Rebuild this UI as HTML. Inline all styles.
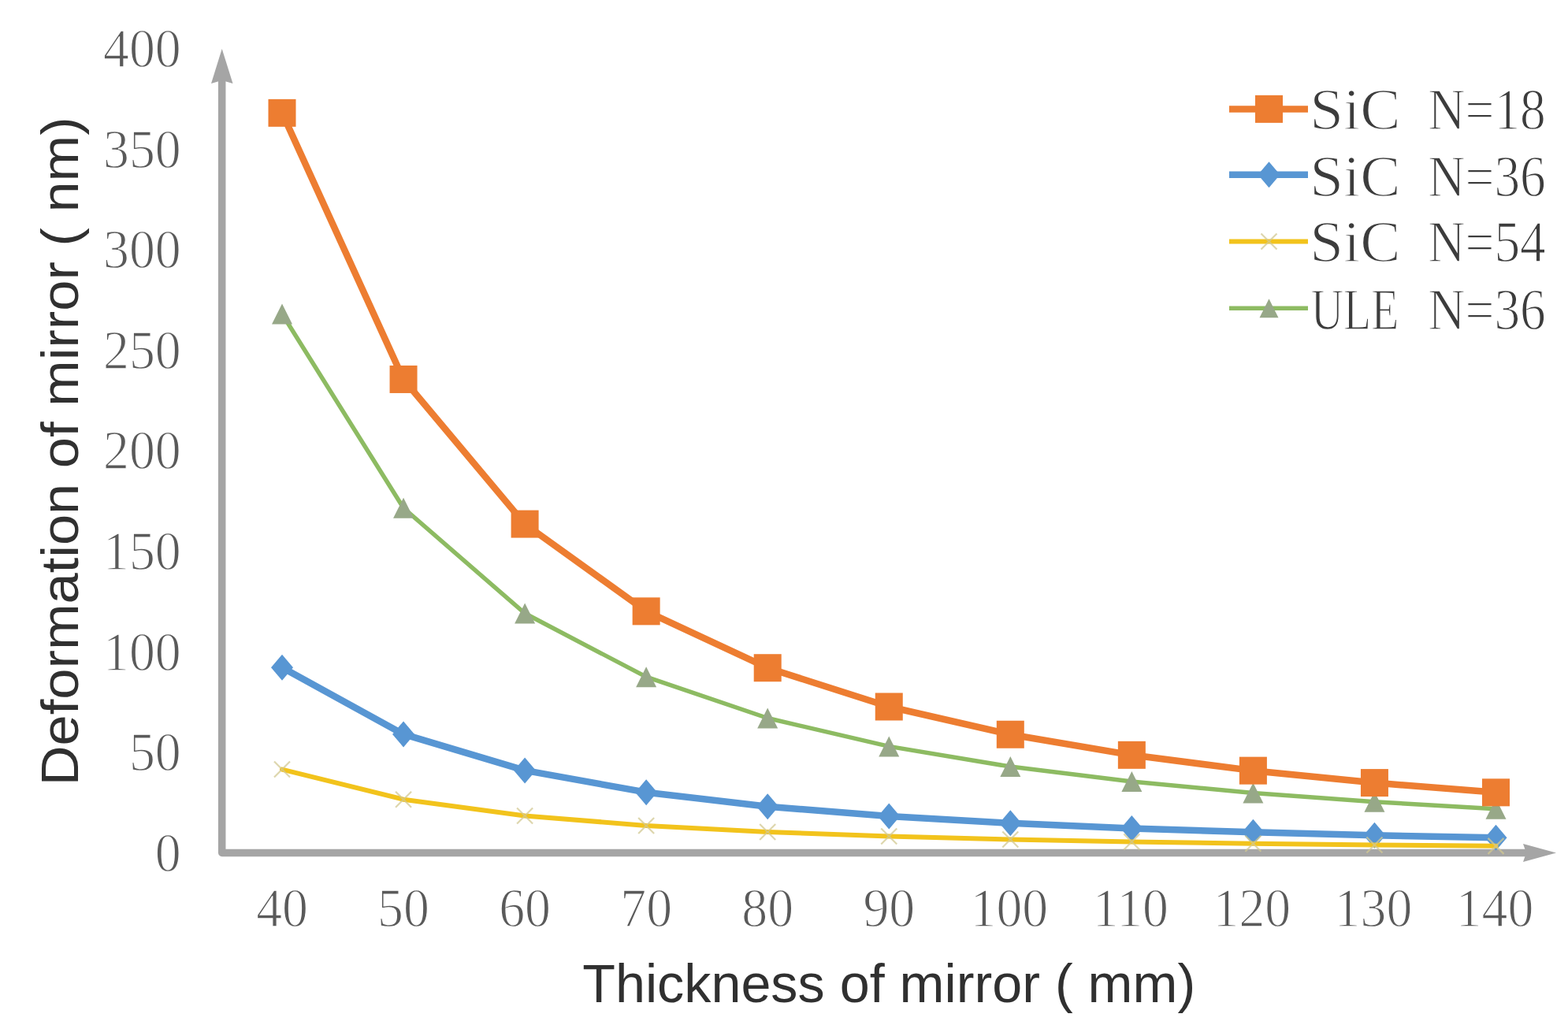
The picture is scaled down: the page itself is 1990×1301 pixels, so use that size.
<!DOCTYPE html><html><head><meta charset="utf-8"><title>Deformation of mirror vs thickness of mirror</title>
<style>html,body{margin:0;padding:0;background:#fff;overflow:hidden;}svg{display:block;}</style></head><body>
<svg width="1990" height="1301" viewBox="0 0 1990 1301">
<rect width="1990" height="1301" fill="#fff"/>
<g font-family="Liberation Serif, serif" font-size="70" fill="#5A5A5A" stroke="#fff" stroke-width="1.3" text-anchor="end" transform="scale(0.940,1)">
<text x="244.4" y="1105.8">0</text>
<text x="244.4" y="978.2">50</text>
<text x="244.4" y="850.6">100</text>
<text x="244.4" y="723.0">150</text>
<text x="244.4" y="595.4">200</text>
<text x="244.4" y="467.8">250</text>
<text x="244.4" y="340.2">300</text>
<text x="244.4" y="212.6">350</text>
<text x="244.4" y="85.0">400</text>
</g>
<g font-family="Liberation Serif, serif" font-size="70" fill="#5A5A5A" stroke="#fff" stroke-width="1.3" text-anchor="middle" transform="scale(0.940,1)">
<text x="380.9" y="1175.8">40</text>
<text x="544.7" y="1175.8">50</text>
<text x="708.6" y="1175.8">60</text>
<text x="872.5" y="1175.8">70</text>
<text x="1036.4" y="1175.8">80</text>
<text x="1200.3" y="1175.8">90</text>
<text x="1362.6" y="1175.8">100</text>
<text x="1526.4" y="1175.8">110</text>
<text x="1690.3" y="1175.8">120</text>
<text x="1854.2" y="1175.8">130</text>
<text x="2018.1" y="1175.8">140</text>
</g>
<path d="M281.7,96 L281.7,1082.5 L1945,1082.5" stroke="#A5A5A5" stroke-width="9.5" fill="none" stroke-linejoin="round"/>
<polygon points="281.7,62 295.5,106 281.7,102 268,106" fill="#A5A5A5"/>
<polygon points="1975,1082.5 1933,1071 1937,1082.5 1933,1094" fill="#A5A5A5"/>
<path d="M358.00,398.56 L512.05,644.78 L666.10,778.53 L820.15,859.17 L974.20,911.52 L1128.25,947.40 L1282.30,973.07 L1436.35,992.06 L1590.40,1006.51 L1744.45,1017.75 L1898.50,1026.67" stroke="#8DBB62" stroke-width="5.5" fill="none" stroke-linejoin="round" stroke-linecap="round"/>
<polygon points="358.00,385.56 371.00,411.56 345.00,411.56" fill="#97A888"/>
<polygon points="512.05,631.78 525.05,657.78 499.05,657.78" fill="#97A888"/>
<polygon points="666.10,765.53 679.10,791.53 653.10,791.53" fill="#97A888"/>
<polygon points="820.15,846.17 833.15,872.17 807.15,872.17" fill="#97A888"/>
<polygon points="974.20,898.52 987.20,924.52 961.20,924.52" fill="#97A888"/>
<polygon points="1128.25,934.40 1141.25,960.40 1115.25,960.40" fill="#97A888"/>
<polygon points="1282.30,960.07 1295.30,986.07 1269.30,986.07" fill="#97A888"/>
<polygon points="1436.35,979.06 1449.35,1005.06 1423.35,1005.06" fill="#97A888"/>
<polygon points="1590.40,993.51 1603.40,1019.51 1577.40,1019.51" fill="#97A888"/>
<polygon points="1744.45,1004.75 1757.45,1030.75 1731.45,1030.75" fill="#97A888"/>
<polygon points="1898.50,1013.67 1911.50,1039.67 1885.50,1039.67" fill="#97A888"/>
<path d="M358.00,847.21 L512.05,931.91 L666.10,977.92 L820.15,1005.67 L974.20,1023.68 L1128.25,1036.02 L1282.30,1044.85 L1436.35,1051.39 L1590.40,1056.36 L1744.45,1060.22 L1898.50,1063.29" stroke="#5896D3" stroke-width="8.5" fill="none" stroke-linejoin="round" stroke-linecap="round"/>
<polygon points="358.00,830.71 372.00,847.21 358.00,863.71 344.00,847.21" fill="#5896D3"/>
<polygon points="512.05,915.41 526.05,931.91 512.05,948.41 498.05,931.91" fill="#5896D3"/>
<polygon points="666.10,961.42 680.10,977.92 666.10,994.42 652.10,977.92" fill="#5896D3"/>
<polygon points="820.15,989.17 834.15,1005.67 820.15,1022.17 806.15,1005.67" fill="#5896D3"/>
<polygon points="974.20,1007.18 988.20,1023.68 974.20,1040.18 960.20,1023.68" fill="#5896D3"/>
<polygon points="1128.25,1019.52 1142.25,1036.02 1128.25,1052.52 1114.25,1036.02" fill="#5896D3"/>
<polygon points="1282.30,1028.35 1296.30,1044.85 1282.30,1061.35 1268.30,1044.85" fill="#5896D3"/>
<polygon points="1436.35,1034.89 1450.35,1051.39 1436.35,1067.89 1422.35,1051.39" fill="#5896D3"/>
<polygon points="1590.40,1039.86 1604.40,1056.36 1590.40,1072.86 1576.40,1056.36" fill="#5896D3"/>
<polygon points="1744.45,1043.72 1758.45,1060.22 1744.45,1076.72 1730.45,1060.22" fill="#5896D3"/>
<polygon points="1898.50,1046.79 1912.50,1063.29 1898.50,1079.79 1884.50,1063.29" fill="#5896D3"/>
<path d="M358.00,976.59 L512.05,1014.72 L666.10,1035.43 L820.15,1047.92 L974.20,1056.02 L1128.25,1061.58 L1282.30,1065.55 L1436.35,1068.50 L1590.40,1070.73 L1744.45,1072.47 L1898.50,1073.85" stroke="#F2C31C" stroke-width="6.0" fill="none" stroke-linejoin="round" stroke-linecap="round"/>
<path d="M348.00,966.59 L368.00,986.59 M348.00,986.59 L368.00,966.59" stroke="#D2C892" stroke-width="2.2" stroke-opacity="0.75" fill="none"/>
<path d="M502.05,1004.72 L522.05,1024.72 M502.05,1024.72 L522.05,1004.72" stroke="#D2C892" stroke-width="2.2" stroke-opacity="0.75" fill="none"/>
<path d="M656.10,1025.43 L676.10,1045.43 M656.10,1045.43 L676.10,1025.43" stroke="#D2C892" stroke-width="2.2" stroke-opacity="0.75" fill="none"/>
<path d="M810.15,1037.92 L830.15,1057.92 M810.15,1057.92 L830.15,1037.92" stroke="#D2C892" stroke-width="2.2" stroke-opacity="0.75" fill="none"/>
<path d="M964.20,1046.02 L984.20,1066.02 M964.20,1066.02 L984.20,1046.02" stroke="#D2C892" stroke-width="2.2" stroke-opacity="0.75" fill="none"/>
<path d="M1118.25,1051.58 L1138.25,1071.58 M1118.25,1071.58 L1138.25,1051.58" stroke="#D2C892" stroke-width="2.2" stroke-opacity="0.75" fill="none"/>
<path d="M1272.30,1055.55 L1292.30,1075.55 M1272.30,1075.55 L1292.30,1055.55" stroke="#D2C892" stroke-width="2.2" stroke-opacity="0.75" fill="none"/>
<path d="M1426.35,1058.50 L1446.35,1078.50 M1426.35,1078.50 L1446.35,1058.50" stroke="#D2C892" stroke-width="2.2" stroke-opacity="0.75" fill="none"/>
<path d="M1580.40,1060.73 L1600.40,1080.73 M1580.40,1080.73 L1600.40,1060.73" stroke="#D2C892" stroke-width="2.2" stroke-opacity="0.75" fill="none"/>
<path d="M1734.45,1062.47 L1754.45,1082.47 M1734.45,1082.47 L1754.45,1062.47" stroke="#D2C892" stroke-width="2.2" stroke-opacity="0.75" fill="none"/>
<path d="M1888.50,1063.85 L1908.50,1083.85 M1888.50,1083.85 L1908.50,1063.85" stroke="#D2C892" stroke-width="2.2" stroke-opacity="0.75" fill="none"/>
<path d="M358.00,143.36 L512.05,481.45 L666.10,665.11 L820.15,775.84 L974.20,847.72 L1128.25,896.99 L1282.30,932.24 L1436.35,958.32 L1590.40,978.15 L1744.45,993.59 L1898.50,1005.84" stroke="#ED7D31" stroke-width="8.5" fill="none" stroke-linejoin="round" stroke-linecap="round"/>
<rect x="340.50" y="125.86" width="35" height="35" fill="#ED7D31"/>
<rect x="494.55" y="463.95" width="35" height="35" fill="#ED7D31"/>
<rect x="648.60" y="647.61" width="35" height="35" fill="#ED7D31"/>
<rect x="802.65" y="758.34" width="35" height="35" fill="#ED7D31"/>
<rect x="956.70" y="830.22" width="35" height="35" fill="#ED7D31"/>
<rect x="1110.75" y="879.49" width="35" height="35" fill="#ED7D31"/>
<rect x="1264.80" y="914.74" width="35" height="35" fill="#ED7D31"/>
<rect x="1418.85" y="940.82" width="35" height="35" fill="#ED7D31"/>
<rect x="1572.90" y="960.65" width="35" height="35" fill="#ED7D31"/>
<rect x="1726.95" y="976.09" width="35" height="35" fill="#ED7D31"/>
<rect x="1881.00" y="988.34" width="35" height="35" fill="#ED7D31"/>
<line x1="1560" y1="138.4" x2="1660" y2="138.4" stroke="#ED7D31" stroke-width="8.5"/>
<rect x="1593.00" y="120.90" width="35" height="35" fill="#ED7D31"/>
<text font-family="Liberation Serif, serif" font-size="74" fill="#3C3C3C" stroke="#fff" stroke-width="1.4" y="163.5"><tspan x="1662.3" textLength="115.3" lengthAdjust="spacingAndGlyphs">SiC</tspan> <tspan x="1812.3" textLength="149.5" lengthAdjust="spacingAndGlyphs">N=18</tspan></text>
<line x1="1560" y1="221.8" x2="1660" y2="221.8" stroke="#5896D3" stroke-width="8.5"/>
<polygon points="1610.50,205.30 1624.50,221.80 1610.50,238.30 1596.50,221.80" fill="#5896D3"/>
<text font-family="Liberation Serif, serif" font-size="74" fill="#3C3C3C" stroke="#fff" stroke-width="1.4" y="249.0"><tspan x="1662.3" textLength="115.3" lengthAdjust="spacingAndGlyphs">SiC</tspan> <tspan x="1812.3" textLength="149.5" lengthAdjust="spacingAndGlyphs">N=36</tspan></text>
<line x1="1560" y1="306.5" x2="1660" y2="306.5" stroke="#F2C31C" stroke-width="6.0"/>
<path d="M1600.50,296.50 L1620.50,316.50 M1600.50,316.50 L1620.50,296.50" stroke="#D2C892" stroke-width="2.2" stroke-opacity="0.75" fill="none"/>
<text font-family="Liberation Serif, serif" font-size="74" fill="#3C3C3C" stroke="#fff" stroke-width="1.4" y="331.8"><tspan x="1662.3" textLength="115.3" lengthAdjust="spacingAndGlyphs">SiC</tspan> <tspan x="1812.3" textLength="149.5" lengthAdjust="spacingAndGlyphs">N=54</tspan></text>
<line x1="1560" y1="391.2" x2="1660" y2="391.2" stroke="#8DBB62" stroke-width="5.5"/>
<polygon points="1610.50,379.20 1622.50,403.20 1598.50,403.20" fill="#97A888"/>
<text font-family="Liberation Serif, serif" font-size="74" fill="#3C3C3C" stroke="#fff" stroke-width="1.4" y="417.5"><tspan x="1663.7" textLength="111.5" lengthAdjust="spacingAndGlyphs">ULE</tspan> <tspan x="1812.3" textLength="149.5" lengthAdjust="spacingAndGlyphs">N=36</tspan></text>
<text font-family="Liberation Sans, sans-serif" font-size="68.5" fill="#303030" x="739.2" y="1271.5" textLength="778" lengthAdjust="spacingAndGlyphs">Thickness of mirror ( mm)</text>
<text font-family="Liberation Sans, sans-serif" font-size="67" fill="#303030" transform="translate(98.5,997.3) rotate(-90)" x="0" y="0" textLength="849" lengthAdjust="spacingAndGlyphs">Deformation of mirror ( nm)</text>
</svg></body></html>
